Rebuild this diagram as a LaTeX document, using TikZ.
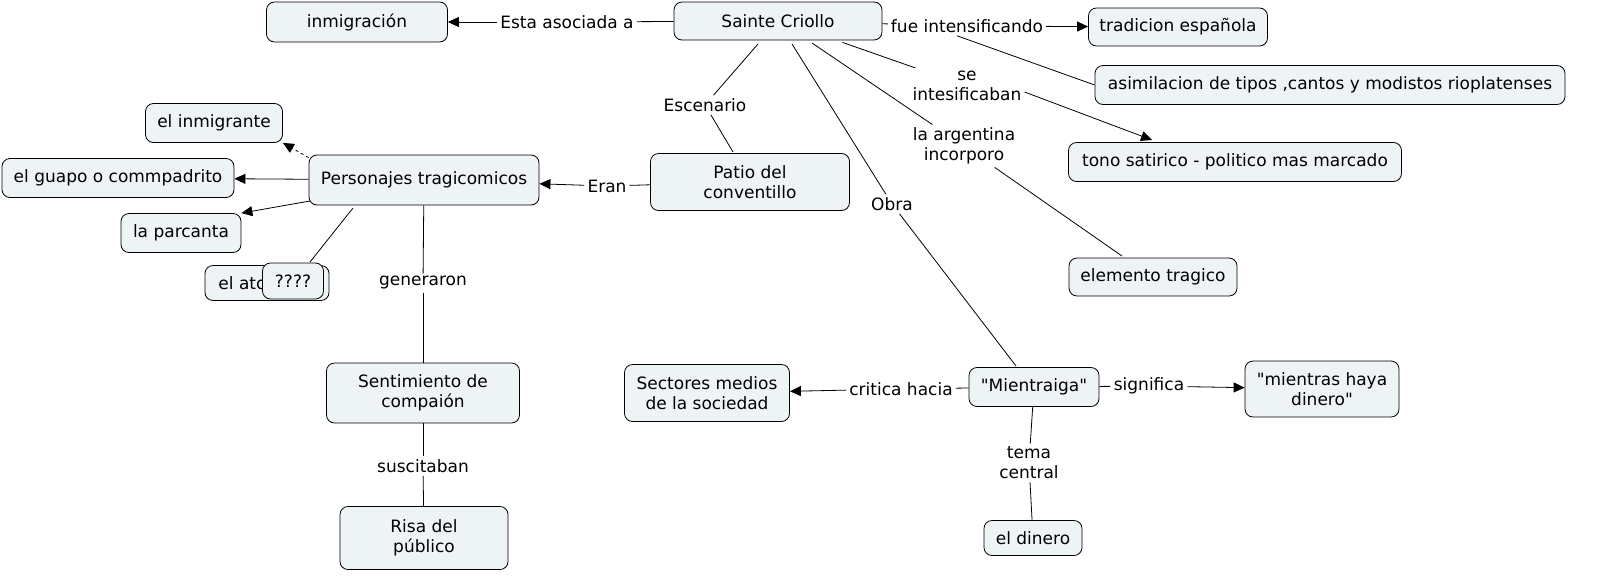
\documentclass[tikz,border=0pt]{standalone}
\usepackage{fontspec}
\setmainfont{DejaVu Sans}[Ligatures=TeXOff]
\usetikzlibrary{arrows.meta}
\begin{document}
\begin{tikzpicture}[x=1pt,y=-1pt,
 box/.style={draw=black,fill={rgb,255:red,238;green,244;blue,246},rounded corners=8pt,align=center,font=\fontsize{17}{20}\selectfont,inner sep=0pt,line width=0.8pt},
 lab/.style={align=center,font=\fontsize{17}{20}\selectfont,inner sep=3pt},
 ln/.style={line width=0.8pt},
 ar/.style={line width=0.8pt,-{Triangle[length=11pt,width=10pt]}}]
\useasboundingbox (0,0) rectangle (1600,587);
\def\B#1#2#3#4#5#6{\node[box,minimum width=#4,minimum height=#5] (#1) at (#2,#3) {#6};}
\B{inm}{357}{22}{181}{40}{inmigración}
\B{sc}{778}{21}{208}{38}{Sainte Criollo}
\B{trad}{1178}{27}{179}{38}{tradicion española}
\B{asim}{1330}{85}{470}{39}{asimilacion de tipos ,cantos y modistos rioplatenses}
\B{tono}{1235}{162}{333}{39}{tono satirico - politico mas marcado}
\B{elem}{1153}{277}{168}{38}{elemento tragico}
\B{einm}{214}{123}{137}{39}{el inmigrante}
\B{guapo}{118}{178}{232}{39}{el guapo o commpadrito}
\B{pers}{424}{180}{230}{50}{Personajes tragicomicos}
\B{patio}{750}{182}{199}{57}{Patio del\\conventillo}
\B{parc}{181}{233}{120}{39}{la parcanta}
\B{atc}{267}{283}{124}{35}{el atc\hspace{50pt}}
\B{q}{293}{281}{61}{36}{????}
\B{sent}{423}{393}{193}{60}{Sentimiento de\\compaión}
\B{risa}{424}{538}{168}{63}{Risa del\\público}
\B{sect}{707}{393}{165}{57}{Sectores medios\\de la sociedad}
\B{mien}{1034}{387}{130}{39}{"Mientraiga"}
\B{mhd}{1322}{389}{154}{56}{"mientras haya\\dinero"}
\B{din}{1033}{538}{98}{35}{el dinero}
\node[lab] (l1) at (567,22) {Esta asociada a};
\node[lab] (l2) at (967,26) {fue intensificando};
\node[lab] (l3) at (967,86) {se\\intesificaban};
\node[lab] (l4) at (964,146) {la argentina\\incorporo};
\node[lab] (l5) at (705,105) {Escenario};
\node[lab] (l6) at (892,204) {Obra};
\node[lab] (l7) at (607,186) {Eran};
\node[lab] (l8) at (423,283) {generaron};
\node[lab] (l9) at (423,466) {suscitaban};
\node[lab] (l10) at (901,389) {critica hacia};
\node[lab] (l11) at (1149,386) {significa};
\node[lab] (l12) at (1029,463) {tema\\central};
\draw[ln] (sc) -- (l1); \draw[ar] (l1) -- (inm);
\draw[ln] (sc) -- (l2); \draw[ar] (l2) -- (trad); \draw[ln] (l2.south) ++(-10,0) -- (asim.west);
\draw[ln] (sc.south east) ++(-40,2) -- (l3); \draw[ar] (l3.east) ++(0,6) -- (1152,140);
\draw[ln] (812,43) -- (l4); \draw[ln] (l4) -- (1122,256);
\draw[ln] (758,44) -- (l5); \draw[ln] (l5) -- (733,152);
\draw[ln] (792,44) -- (l6); \draw[ln] (l6) -- (1016,366);
\draw[ln] (patio) -- (l7); \draw[ar] (l7) -- (pers);
\draw[ar,dashed] (pers.north west) ++(0,3) -- (einm.south east);
\draw[ar] (pers) -- (guapo);
\draw[ar] (310,201) -- (parc.north east);
\draw[ln] (353,208) -- (310,262);
\draw[ln] (pers) -- (l8); \draw[ln] (l8) -- (sent);
\draw[ln] (sent) -- (l9); \draw[ln] (l9) -- (risa);
\draw[ln] (mien) -- (l10); \draw[ar] (l10) -- (sect);
\draw[ln] (mien) -- (l11); \draw[ar] (l11) -- (mhd);
\draw[ln] (mien) -- (l12); \draw[ln] (l12) -- (din);
\end{tikzpicture}
\end{document}
